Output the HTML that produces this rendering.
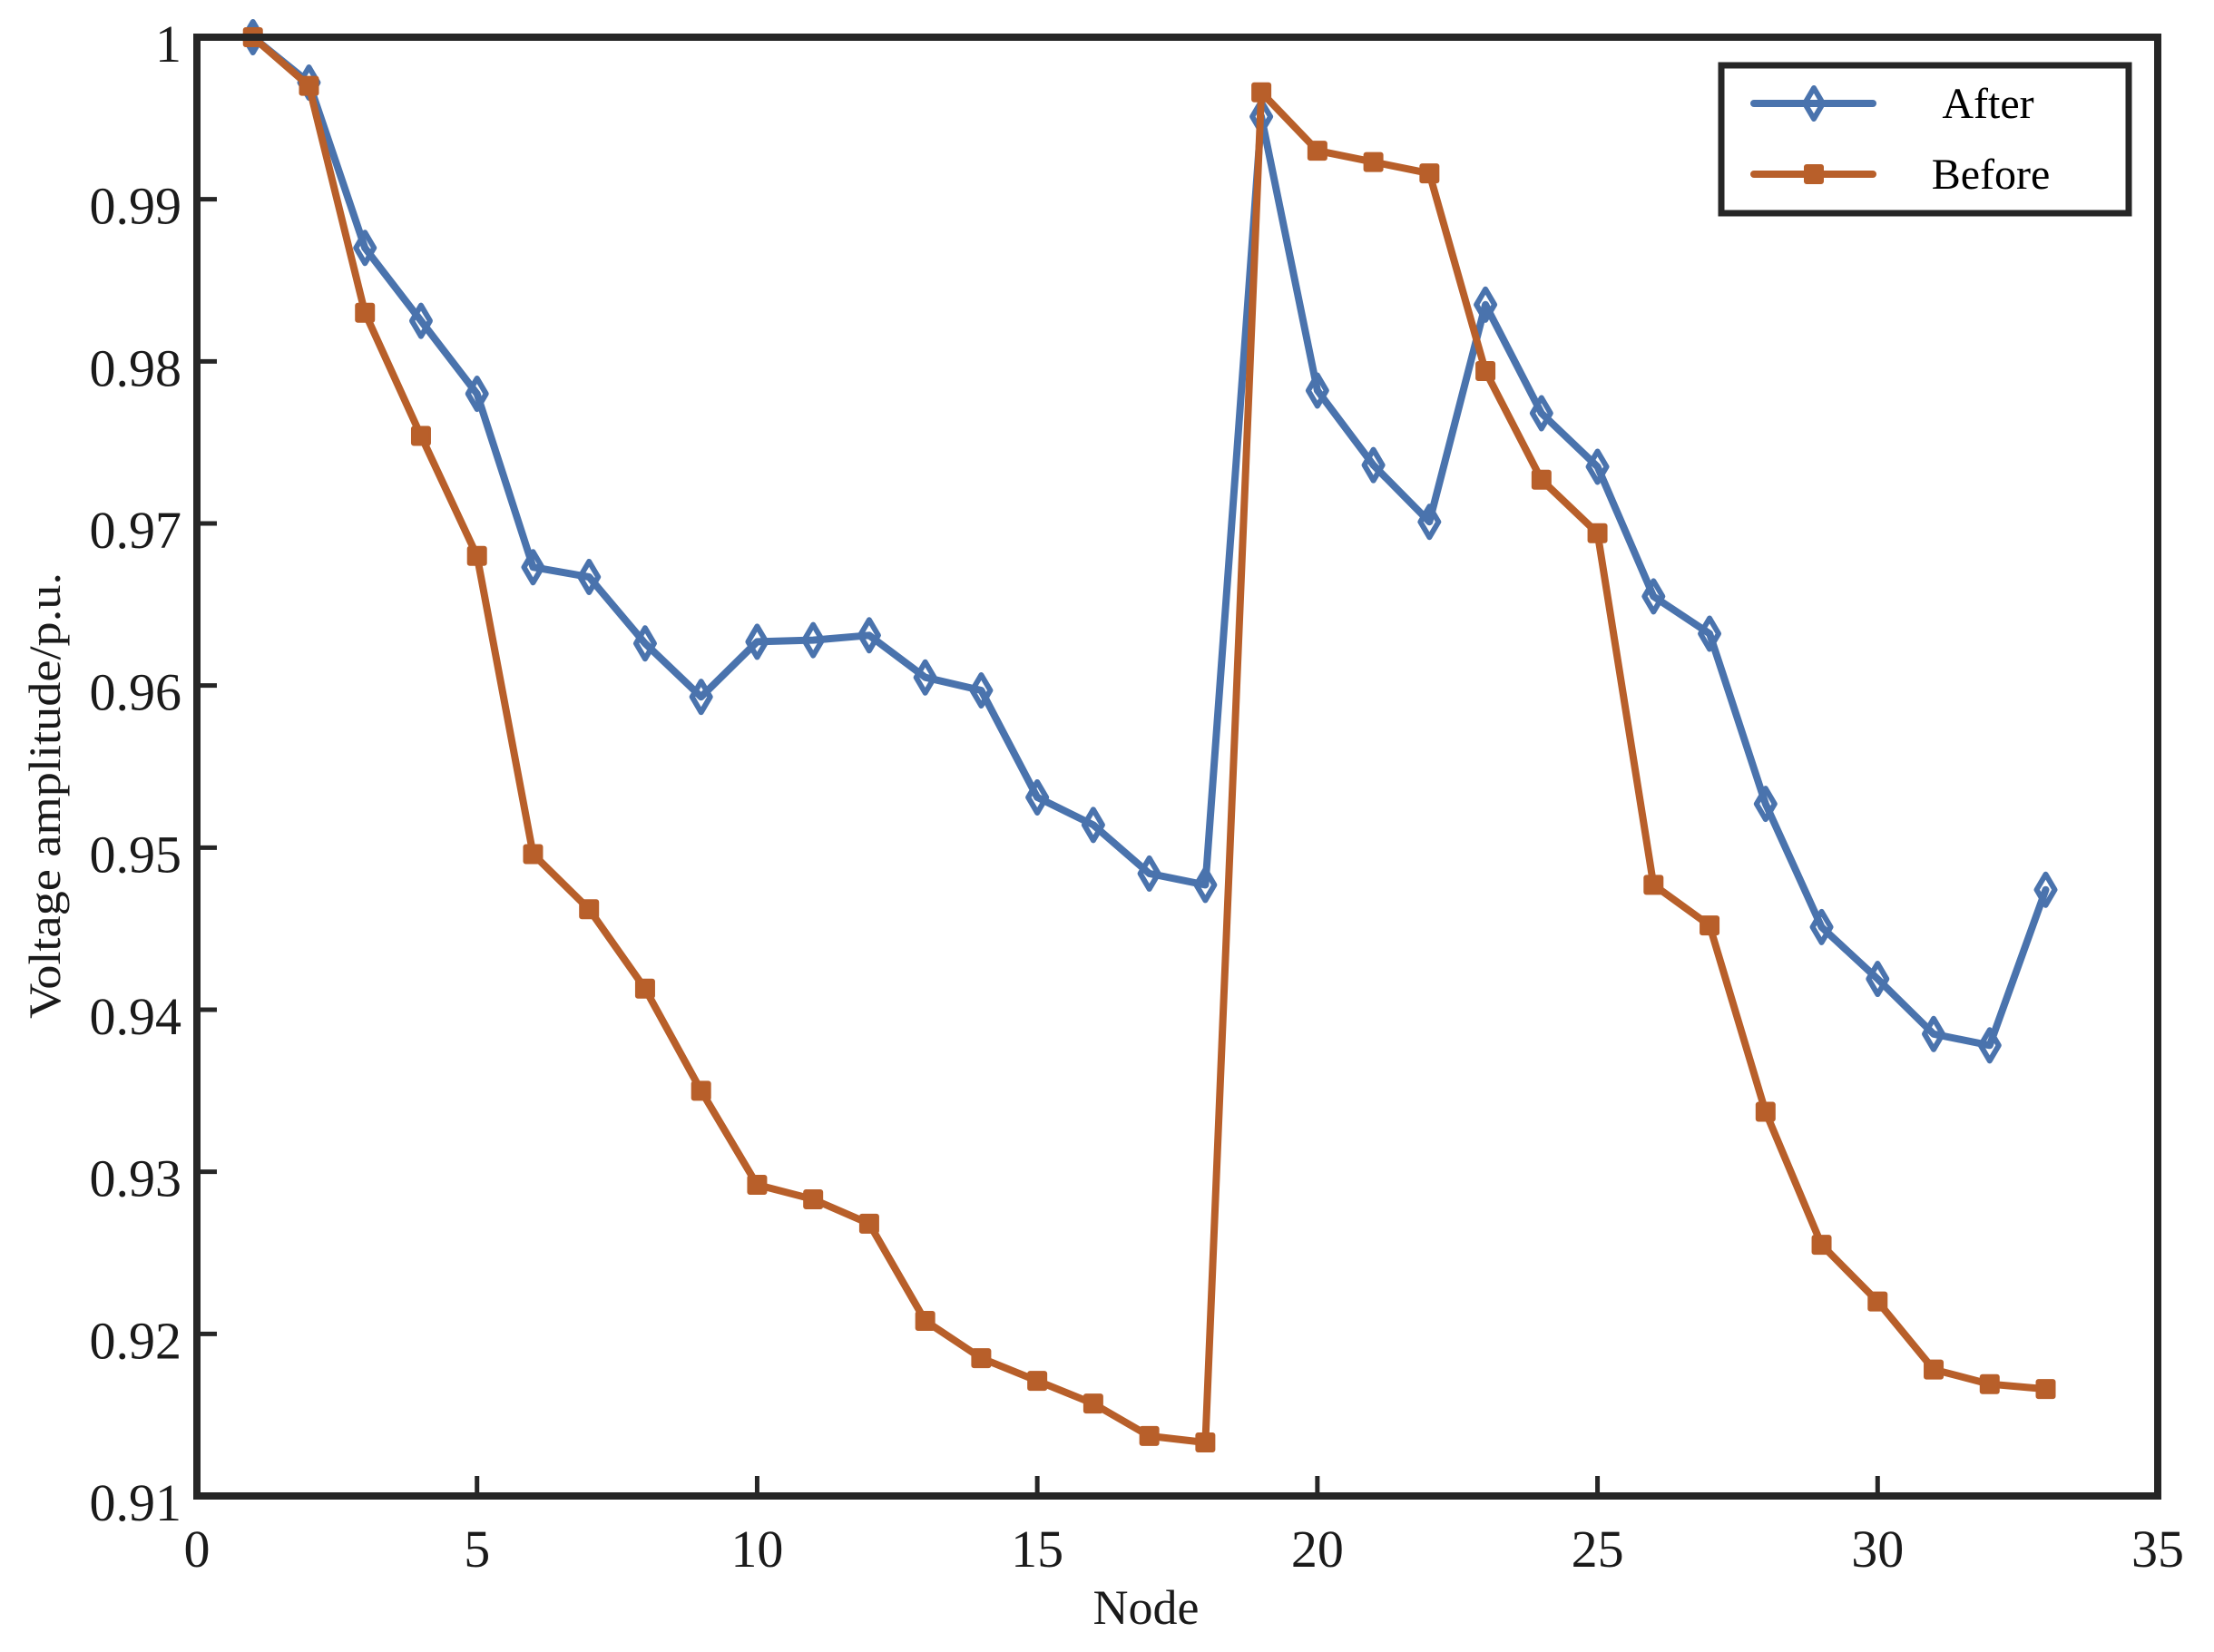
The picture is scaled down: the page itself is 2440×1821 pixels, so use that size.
<!DOCTYPE html>
<html><head><meta charset="utf-8"><style>html,body{margin:0;padding:0;background:#fff}svg{display:block}</style></head>
<body>
<svg id="s" width="2440" height="1821" xmlns="http://www.w3.org/2000/svg" font-family="Liberation Serif, serif" fill="#1a1a1a"></svg>
<script>
var after=[1.000,0.9972,0.987,0.9825,0.978,0.9673,0.9667,0.9626,0.9593,0.9627,0.9628,0.9631,0.9605,0.9597,0.9531,0.9514,0.9484,0.9477,0.9951,0.9782,0.9736,0.9701,0.9835,0.9768,0.9735,0.9655,0.9632,0.9527,0.9451,0.9419,0.9385,0.9378,0.9474];
var before=[1.000,0.997,0.983,0.9754,0.968,0.9496,0.9462,0.9413,0.9350,0.9292,0.9283,0.9268,0.9208,0.9185,0.9171,0.9157,0.9137,0.9133,0.9966,0.9930,0.9923,0.9916,0.9794,0.9727,0.9694,0.9477,0.9452,0.9337,0.9255,0.9220,0.9178,0.9169,0.9166];
var X0=217,X1=2378,Y0=41,Y1=1649;
function px(x){return X0+(X1-X0)*x/35}
function py(v){return Y1-(Y1-Y0)*(v-0.91)/0.09}
var h='';
var BL='#4a73ad',OR='#b85f2a';
for(var i=0;i<=35;i+=5){var x=px(i);
 if(i>0&&i<35)h+='<line x1="'+x+'" y1="'+Y1+'" x2="'+x+'" y2="'+(Y1-22)+'" stroke="#262626" stroke-width="5"/>';
 h+='<text x="'+x+'" y="1727" font-size="58" text-anchor="middle">'+i+'</text>';}
var yl=['0.91','0.92','0.93','0.94','0.95','0.96','0.97','0.98','0.99','1'];
for(var j=0;j<10;j++){var y=py(0.91+j*0.01);
 if(j>0&&j<9)h+='<line x1="'+X0+'" y1="'+y+'" x2="'+(X0+22)+'" y2="'+y+'" stroke="#262626" stroke-width="5"/>';
 h+='<text x="200" y="'+(y+27)+'" font-size="58" text-anchor="end">'+yl[j]+'</text>';}
function series(d,c,m){var p='';d.forEach(function(v,k){p+=(k?'L':'M')+px(k+1).toFixed(1)+' '+py(v).toFixed(1)});
 var s='<path d="'+p+'" fill="none" stroke="'+c+'" stroke-width="8" stroke-linejoin="round" stroke-linecap="round"/>';
 d.forEach(function(v,k){s+=mark(px(k+1),py(v),c,m)});return s;}
function mark(x,y,c,m){if(m=='d')return '<path d="M'+x+' '+(y-17)+'L'+(x+10)+' '+y+'L'+x+' '+(y+17)+'L'+(x-10)+' '+y+'Z" fill="none" stroke="'+c+'" stroke-width="6" stroke-linejoin="round"/>';
 return '<rect x="'+(x-10)+'" y="'+(y-10)+'" width="20" height="20" rx="2" fill="'+c+'" stroke="'+c+'" stroke-width="2"/>';}
h+=series(after,BL,'d');
h+=series(before,OR,'s');
h+='<rect x="'+X0+'" y="'+Y0+'" width="'+(X1-X0)+'" height="'+(Y1-Y0)+'" fill="none" stroke="#262626" stroke-width="8"/>';
h+='<rect x="1897" y="72" width="449" height="163" fill="#fff" stroke="#262626" stroke-width="7"/>';
h+='<line x1="1933" y1="114" x2="2064" y2="114" stroke="'+BL+'" stroke-width="8" stroke-linecap="round"/>'+mark(1999,114,BL,'d');
h+='<line x1="1933" y1="192" x2="2064" y2="192" stroke="'+OR+'" stroke-width="8" stroke-linecap="round"/>'+mark(1999,192,OR,'s');
h+='<text x="2191" y="130" font-size="48" text-anchor="middle" fill="#000">After</text>';
h+='<text x="2194" y="208" font-size="48" text-anchor="middle" fill="#000">Before</text>';
h+='<text x="1263" y="1790" font-size="54" text-anchor="middle">Node</text>';
h+='<text transform="translate(66 877) rotate(-90)" font-size="50" text-anchor="middle" textLength="492" lengthAdjust="spacingAndGlyphs">Voltage amplitude/p.u.</text>';
document.getElementById('s').innerHTML=h;
</script>
</body></html>
